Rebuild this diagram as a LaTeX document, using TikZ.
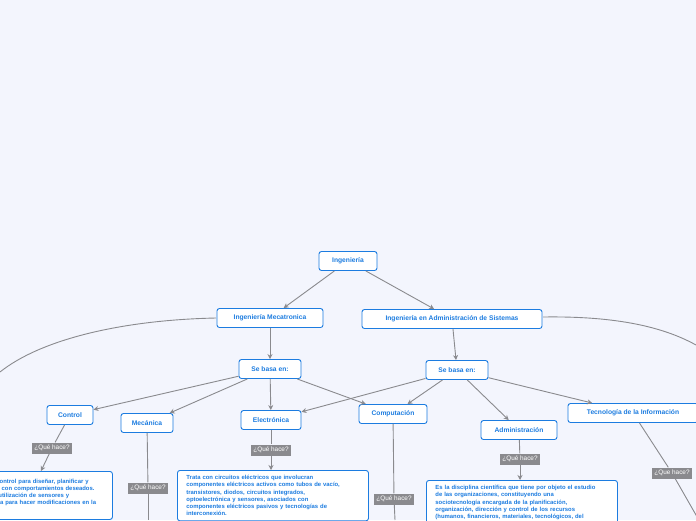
\documentclass[tikz,border=0pt]{standalone}
\usepackage{fontspec}
\setmainfont{Liberation Sans}
\usetikzlibrary{arrows.meta}
\definecolor{bg}{HTML}{F3F5FD}
\definecolor{blu}{HTML}{1C7CE0}
\definecolor{gl}{HTML}{8A8A8E}
\begin{document}
\begin{tikzpicture}[x=1pt,y=-1pt,
  box/.style={draw=blu,line width=0.9pt,fill=white,rounded corners=2.5pt,text=blu,font=\fontsize{6.7}{7}\selectfont\bfseries,inner sep=0pt,minimum height=19pt},
  tbox/.style={draw=blu,line width=0.9pt,fill=white,rounded corners=2.5pt,text=blu,font=\fontsize{5.9}{7.2}\selectfont\bfseries,align=left,anchor=north west,inner xsep=9pt,inner ysep=5pt},
  lab/.style={fill=gl,text=white,font=\fontsize{6.4}{7}\selectfont,inner sep=2pt,minimum height=11pt},
  con/.style={draw=gl,line width=0.9pt},
  arr/.style={con,-{Stealth[length=5pt,width=5pt]}}]
\useasboundingbox (0,0) rectangle (696,520);
\fill[bg] (0,0) rectangle (696,520);
\clip (0,0) rectangle (696,520);
% curves
\draw[con] (216,318) .. controls (120,320) and (40,340) .. (0,372);
\draw[con] (543,317) .. controls (610,316) and (660,325) .. (696,345);
% nodes
\node[box,minimum width=58pt] (ing) at (348,261) {Ingeniería};
\node[box,minimum width=106pt] (mec) at (270,318) {Ingeniería Mecatronica};
\node[box,minimum width=180pt] (adm) at (452,319) {Ingeniería en Administración de Sistemas};
\node[box,minimum width=62pt] (sb1) at (270,369) {Se basa en:};
\node[box,minimum width=62pt] (sb2) at (457,370) {Se basa en:};
\node[box,minimum width=46pt] (ctl) at (70,415) {Control};
\node[box,minimum width=52pt] (mca) at (147,423) {Mecánica};
\node[box,minimum width=60pt] (ele) at (271,420) {Electrónica};
\node[box,minimum width=68pt] (com) at (393,414) {Computación};
\node[box,minimum width=76pt] (adn) at (519,430) {Administración};
\node[box,minimum width=130pt] (ti) at (633,413) {Tecnología de la Información};
% connectors
\draw[arr] (ing) -- (mec);
\draw[arr] (ing) -- (adm);
\draw[arr] (mec) -- (sb1);
\draw[arr] (adm) -- (sb2);
\draw[arr] (sb1) -- (ctl);
\draw[arr] (sb1) -- (mca);
\draw[arr] (sb1) -- (ele);
\draw[arr] (sb1) -- (com);
\draw[arr] (sb2) -- (ele);
\draw[arr] (sb2) -- (com);
\draw[arr] (sb2) -- (adn);
\draw[arr] (sb2) -- (ti);
% text boxes
\node[tbox,text width=114pt,minimum height=48pt,inner xsep=2pt] (tctl) at (-6,471) {control para diseñar, planificar y\\s con comportamientos deseados.\\\ utilización de sensores y\\da para hacer modificaciones en la\\\ };
\node[tbox,text width=173pt] (tele) at (177,470) {Trata con circuitos eléctricos que involucran\\componentes eléctricos activos como tubos de vacío,\\transistores, diodos, circuitos integrados,\\optoelectrónica y sensores, asociados con\\componentes eléctricos pasivos y tecnologías de\\interconexión.};
\node[tbox,text width=173pt] (tadn) at (426,480) {Es la disciplina científica que tiene por objeto el estudio\\de las organizaciones, constituyendo una\\sociotecnología encargada de la planificación,\\organización, dirección y control de los recursos\\(humanos, financieros, materiales, tecnológicos, del};
\coordinate (emca) at (148,520);
\coordinate (ecom) at (395,520);
\coordinate (eti) at (700,522);
\node[lab] (l1) at (52,448) {¿Qué hace?};
\node[lab] (l2) at (148,488) {¿Qué hace?};
\node[lab] (l3) at (271,450) {¿Qué hace?};
\node[lab] (l4) at (394,499) {¿Qué hace?};
\node[lab] (l5) at (520,459) {¿Qué hace?};
\node[lab] (l6) at (672,473) {¿Que hace?};
\draw[con] (ctl) -- (l1); \draw[arr] (l1) -- (tctl.north -| 41,0);
\draw[con] (mca) -- (l2); \draw[con] (l2) -- (emca);
\draw[con] (ele) -- (l3); \draw[arr] (l3) -- (tele.north -| l3);
\draw[con] (com) -- (l4); \draw[con] (l4) -- (ecom);
\draw[con] (adn) -- (l5); \draw[arr] (l5) -- (tadn.north -| l5);
\draw[con] (ti) -- (l6); \draw[con] (l6) -- (eti);
\end{tikzpicture}
\end{document}
